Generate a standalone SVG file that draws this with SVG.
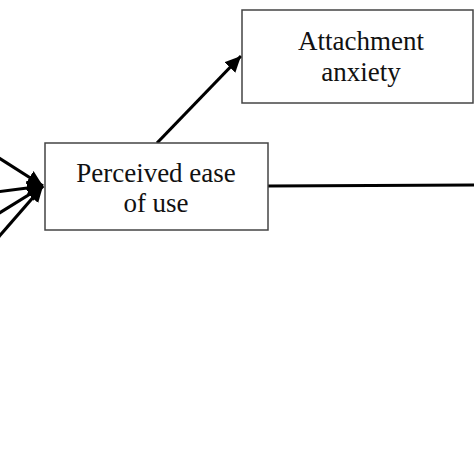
<svg xmlns="http://www.w3.org/2000/svg" width="474" height="474" viewBox="0 0 474 474">
<style>
.box{fill:#fff;stroke:#444;stroke-width:1.5}
.t{font-family:"Liberation Serif","Times New Roman",serif;font-size:27px;fill:#111;text-anchor:middle}
.c{stroke:#000;stroke-width:3.2;fill:none}
</style>
<defs>
<marker id="ah" markerUnits="userSpaceOnUse" markerWidth="18" markerHeight="16" refX="16" refY="7.5" orient="auto">
<path d="M0,0 L16,7.5 L0,15 Z" fill="#000"/>
</marker>
</defs>
<rect width="474" height="474" fill="#fff"/>
<g id="connectors">
<line class="c" x1="-4" y1="156" x2="43" y2="186" marker-end="url(#ah)"/>
<line class="c" x1="-4" y1="192" x2="43" y2="186" marker-end="url(#ah)"/>
<line class="c" x1="-4" y1="215" x2="43" y2="186" marker-end="url(#ah)"/>
<line class="c" x1="-4" y1="240" x2="43" y2="186" marker-end="url(#ah)"/>
<line class="c" x1="157" y1="143" x2="241" y2="56" marker-end="url(#ah)"/>
<line class="c" x1="268" y1="186" x2="476" y2="185"/>
</g>
<g id="peou">
<rect class="box" x="45" y="143" width="223" height="87"/>
<text class="t" x="156" y="182">Perceived ease</text>
<text class="t" x="156" y="212">of use</text>
</g>
<g id="anxiety">
<rect class="box" x="242" y="10" width="231" height="93"/>
<text class="t" x="361" y="50">Attachment</text>
<text class="t" x="361" y="81">anxiety</text>
</g>
</svg>
